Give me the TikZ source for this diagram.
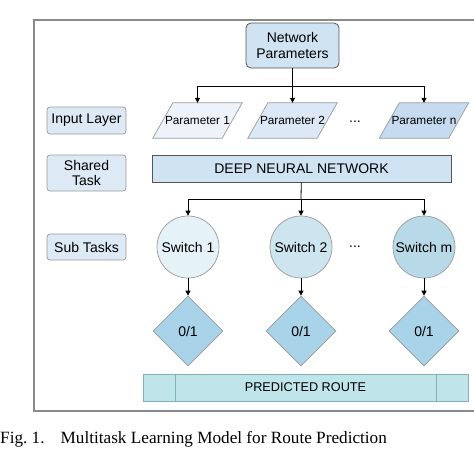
\documentclass[tikz,border=0pt]{standalone}
\usepackage{fontspec}
\setmainfont{Liberation Serif}
\newfontfamily\diagfont{Liberation Sans}
\usetikzlibrary{shapes.geometric,arrows.meta,backgrounds}

\definecolor{framegray}{HTML}{8A8A8A}
\definecolor{edgegray}{HTML}{9A9A9A}
\definecolor{darkedge}{HTML}{555555}
\definecolor{labelfill}{HTML}{DDE9F5}
\definecolor{topfill}{HTML}{CFE3F3}
\definecolor{parA}{HTML}{EEF3FB}
\definecolor{parB}{HTML}{DCE8F5}
\definecolor{parC}{HTML}{C6DBEF}
\definecolor{swA}{HTML}{E5F2F8}
\definecolor{swB}{HTML}{CDE5EF}
\definecolor{swC}{HTML}{B8DAE8}
\definecolor{bitfill}{HTML}{A9D3E8}
\definecolor{routefill}{HTML}{BFE5EA}
\definecolor{routeedge}{HTML}{7FB3B6}

\tikzset{
    every node/.style={font=\diagfont\fontsize{14}{15.5}\selectfont},
    labelbox/.style={draw=edgegray, line width=0.7pt, fill=labelfill, rounded corners=3pt, minimum width=79pt, align=center, inner sep=2pt},
    parbox/.style={minimum width=69pt, minimum height=35pt, inner sep=0pt,
        font=\diagfont\fontsize{11.8}{13}\selectfont},
    switchnode/.style={circle, draw=edgegray, line width=0.7pt, minimum size=62pt, inner sep=0pt},
    bitnode/.style={diamond, draw=edgegray, line width=0.7pt, fill=bitfill, minimum width=70pt, minimum height=70pt, inner sep=0pt},
    flow/.style={-{Triangle[length=5pt,width=5pt]}, line width=0.8pt},
}

\begin{document}
\begin{tikzpicture}[x=1pt,y=-1pt]
    \useasboundingbox (0,0) rectangle (474,448);

    % outer frame, cut at the right edge
    \draw[framegray, line width=1.6pt] (34,20) rectangle (490,411);

    % top node
    \node[draw=darkedge, line width=0.8pt, fill=topfill, rounded corners=5pt, minimum width=93pt, minimum height=45pt, align=center] (netpar) at (292.5,45.5) {Network\\Parameters};

    % row labels
    \node[labelbox, minimum height=27pt] (inlayer) at (86.5,120.5) {Input Layer};
    \node[labelbox, minimum height=36pt] (shtask) at (86.5,173) {Shared\\Task};
    \node[labelbox, minimum height=26pt] (subtask) at (86.5,247) {Sub Tasks};

    % input layer
    \node[parbox] (par1) at (197.5,120.5) {Parameter 1};
    \node[parbox] (par2) at (292.5,120.5) {Parameter 2};
    \node[parbox] (parn) at (424,120.5) {Parameter n};
    \node (pdots) at (355,122) {...};

    % slanted outlines behind the parameter texts
    \begin{scope}[on background layer]
        \foreach \p/\c in {par1/parA, par2/parB, parn/parC}
            \draw[edgegray, line width=0.7pt, fill=\c] ([xshift=-10pt]\p.south west) -- ([xshift=-10pt]\p.south east)
                -- ([xshift=10pt]\p.north east) -- ([xshift=10pt]\p.north west) -- cycle;
    \end{scope}

    \coordinate (split1) at (292.5,86);
    \draw[line width=0.8pt] (netpar) -- (split1);
    \draw[flow] (split1) -| (par1);
    \draw[flow] (split1) -- (par2);
    \draw[flow] (split1) -| (parn);

    % shared task
    \node[draw=darkedge, line width=0.8pt, fill=topfill, minimum width=299pt, minimum height=27pt] (dnn) at (301.5,168.5) {DEEP NEURAL NETWORK};

    % sub tasks
    \node[switchnode, fill=swA] (sw1) at (188,247) {Switch 1};
    \node[switchnode, fill=swB] (sw2) at (301,247) {Switch 2};
    \node[switchnode, fill=swC] (swm) at (424,247) {Switch m};
    \node (sdots) at (355,247) {...};

    \coordinate (split2) at (301,199);
    \draw[line width=0.8pt] (dnn) -- (split2);
    \draw[flow] (split2) -| (sw1);
    \draw[flow] (split2) -- (sw2);
    \draw[flow] (split2) -| (swm);

    % outputs
    \node[bitnode] (bit1) at (188,331) {0/1};
    \node[bitnode] (bit2) at (301,331) {0/1};
    \node[bitnode] (bitm) at (424,331) {0/1};

    \draw[flow] (sw1) -- (bit1);
    \draw[flow] (sw2) -- (bit2);
    \draw[flow] (swm) -- (bitm);

    % predicted route
    \node[draw=routeedge, line width=0.7pt, fill=routefill, minimum width=325pt, minimum height=27pt, font=\diagfont\fontsize{12.7}{14}\selectfont] (route) at (305.5,387.5) {PREDICTED ROUTE};
    \draw[routeedge, line width=0.7pt] (route.north west) ++(33,0) -- ++(0,27);
    \draw[routeedge, line width=0.7pt] (route.north east) ++(-32,0) -- ++(0,27);

    % caption
    \node[anchor=base west, font=\rmfamily\fontsize{17.2}{19}\selectfont, inner sep=0pt] (caption) at (0,443) {Fig.~1.\hspace{16pt}Multitask Learning Model for Route Prediction};
\end{tikzpicture}
\end{document}
